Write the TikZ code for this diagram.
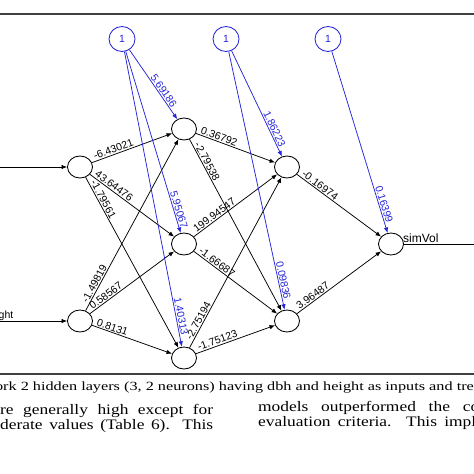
\documentclass[tikz,border=0pt]{standalone}
\usepackage{fontspec}
\newfontfamily\nnsans{Liberation Sans}
\newfontfamily\nncap[FakeStretch=1.3]{Liberation Serif}
\newfontfamily\nnbody[FakeStretch=1.2]{Liberation Serif}
\usetikzlibrary{shapes.geometric,arrows.meta}
\definecolor{nnblue}{rgb}{0.15,0.15,0.85}
\definecolor{rulegray}{gray}{0.25}
\tikzset{
  neuron/.style={ellipse, draw=black, line width=0.85pt, minimum width=25pt, minimum height=22pt, inner sep=0pt},
  biasnode/.style={ellipse, draw=nnblue, line width=0.85pt, minimum width=26pt, minimum height=25pt, inner sep=0pt, text=nnblue, font=\nnsans\fontsize{10.5}{12}\selectfont},
  edge/.style={draw=black, line width=0.75pt, -{Latex[length=5.5pt,width=4.5pt]}},
  bedge/.style={draw=nnblue, line width=0.75pt, -{Latex[length=5.5pt,width=4.5pt]}},
  wlab/.style={sloped, anchor=south west, pos=0.03, inner sep=1pt, font=\nnsans\fontsize{10.5}{12}\selectfont},
  blab/.style={sloped, above, inner sep=1pt, text=nnblue, font=\nnsans\fontsize{10.5}{12}\selectfont},
  plainlab/.style={inner sep=0pt, font=\nnsans\fontsize{10.5}{12}\selectfont},
  outlab/.style={inner sep=0pt, font=\nnsans\fontsize{12}{14}\selectfont},
  rulel/.style={draw=rulegray, line width=1.4pt},
  captext/.style={anchor=base west, inner sep=0pt, font=\nncap\fontsize{12.5}{14}\selectfont},
  bodytext/.style={anchor=base west, inner sep=0pt, font=\nnbody\fontsize{14.5}{16}\selectfont}
}
\begin{document}
\begin{tikzpicture}[x=1pt,y=-1pt]
\useasboundingbox (0,0) rectangle (474,474);
\clip (0,0) rectangle (474,474);
\fill[white] (0,0) rectangle (474,474);

% frame rules
\coordinate (rt1) at (0,14); \coordinate (rt2) at (474,14);
\coordinate (rb1) at (0,374); \coordinate (rb2) at (474,374);
\draw[rulel] (rt1) -- (rt2);
\draw[rulel] (rb1) -- (rb2);

% nodes
\node[biasnode] (B1) at (122,39) {1};
\node[biasnode] (B2) at (226,39) {1};
\node[biasnode] (B3) at (328,39) {1};
\node[neuron] (I1) at (80,167) {};
\node[neuron] (I2) at (80,321) {};
\node[neuron] (H1) at (184,129) {};
\node[neuron] (H2) at (184,244) {};
\node[neuron] (H3) at (184,358) {};
\node[neuron] (H4) at (287,167) {};
\node[neuron] (H5) at (287,321) {};
\node[neuron] (O) at (391,244) {};

\coordinate (in1) at (0,167);
\coordinate (in2) at (0,321);
\coordinate (out) at (474,244);

% input / output lines
\draw[edge] (in1) -- (I1);
\draw[edge] (in2) -- (I2);
\draw[draw=black, line width=0.75pt] (O) -- (out);
\node[plainlab, anchor=base east] (hlab) at (13.5,318.5) {height};
\node[outlab, anchor=base west] (olab) at (403,242) {simVol};

% black weights
\draw[edge] (I1) -- node[wlab]{-6.43021} (H1);
\draw[edge] (I1) -- node[wlab]{43.64476} (H2);
\draw[edge] (I1) -- node[wlab]{-1.79561} (H3);
\draw[edge] (I2) -- node[wlab]{-1.49819} (H1);
\draw[edge] (I2) -- node[wlab]{0.58567} (H2);
\draw[edge] (I2) -- node[wlab]{0.8131} (H3);
\draw[edge] (H1) -- node[wlab]{0.36792} (H4);
\draw[edge] (H1) -- node[wlab]{-2.79538} (H5);
\draw[edge] (H2) -- node[wlab]{199.94547} (H4);
\draw[edge] (H2) -- node[wlab]{-1.66687} (H5);
\draw[edge] (H3) -- node[wlab]{-2.75194} (H4);
\draw[edge] (H3) -- node[wlab]{-1.75123} (H5);
\draw[edge] (H4) -- node[wlab]{-0.16974} (O);
\draw[edge] (H5) -- node[wlab]{3.96487} (O);

% bias weights
\draw[bedge] (B1) -- node[blab, pos=0.63]{5.69186} (H1);
\draw[bedge] (B1) -- node[blab, pos=0.88]{5.95067} (H2);
\draw[bedge] (B1) -- node[blab, pos=0.90]{1.40313} (H3);
\draw[bedge] (B2) -- node[blab, pos=0.76]{1.86223} (H4);
\draw[bedge] (B2) -- node[blab, pos=0.89]{0.09836} (H5);
\draw[bedge] (B3) -- node[blab, pos=0.85]{0.16399} (O);

% caption and body text
\node[captext] (cap) at (3,390) {\llap{wo}rk 2 hidden layers (3, 2 neurons) having dbh and height as inputs and tree};
\node[bodytext] (t1) at (0,414) {\makebox[213pt][s]{re generally high except for}};
\node[bodytext] (t2) at (0,429.5) {\makebox[213pt][s]{derate values (Table 6). This}};
\node[bodytext] (t3) at (258,411) {\makebox[221pt][s]{models outperformed the co}};
\node[bodytext] (t4) at (258,426) {\makebox[218pt][s]{evaluation criteria. This impl}};
\end{tikzpicture}
\end{document}
